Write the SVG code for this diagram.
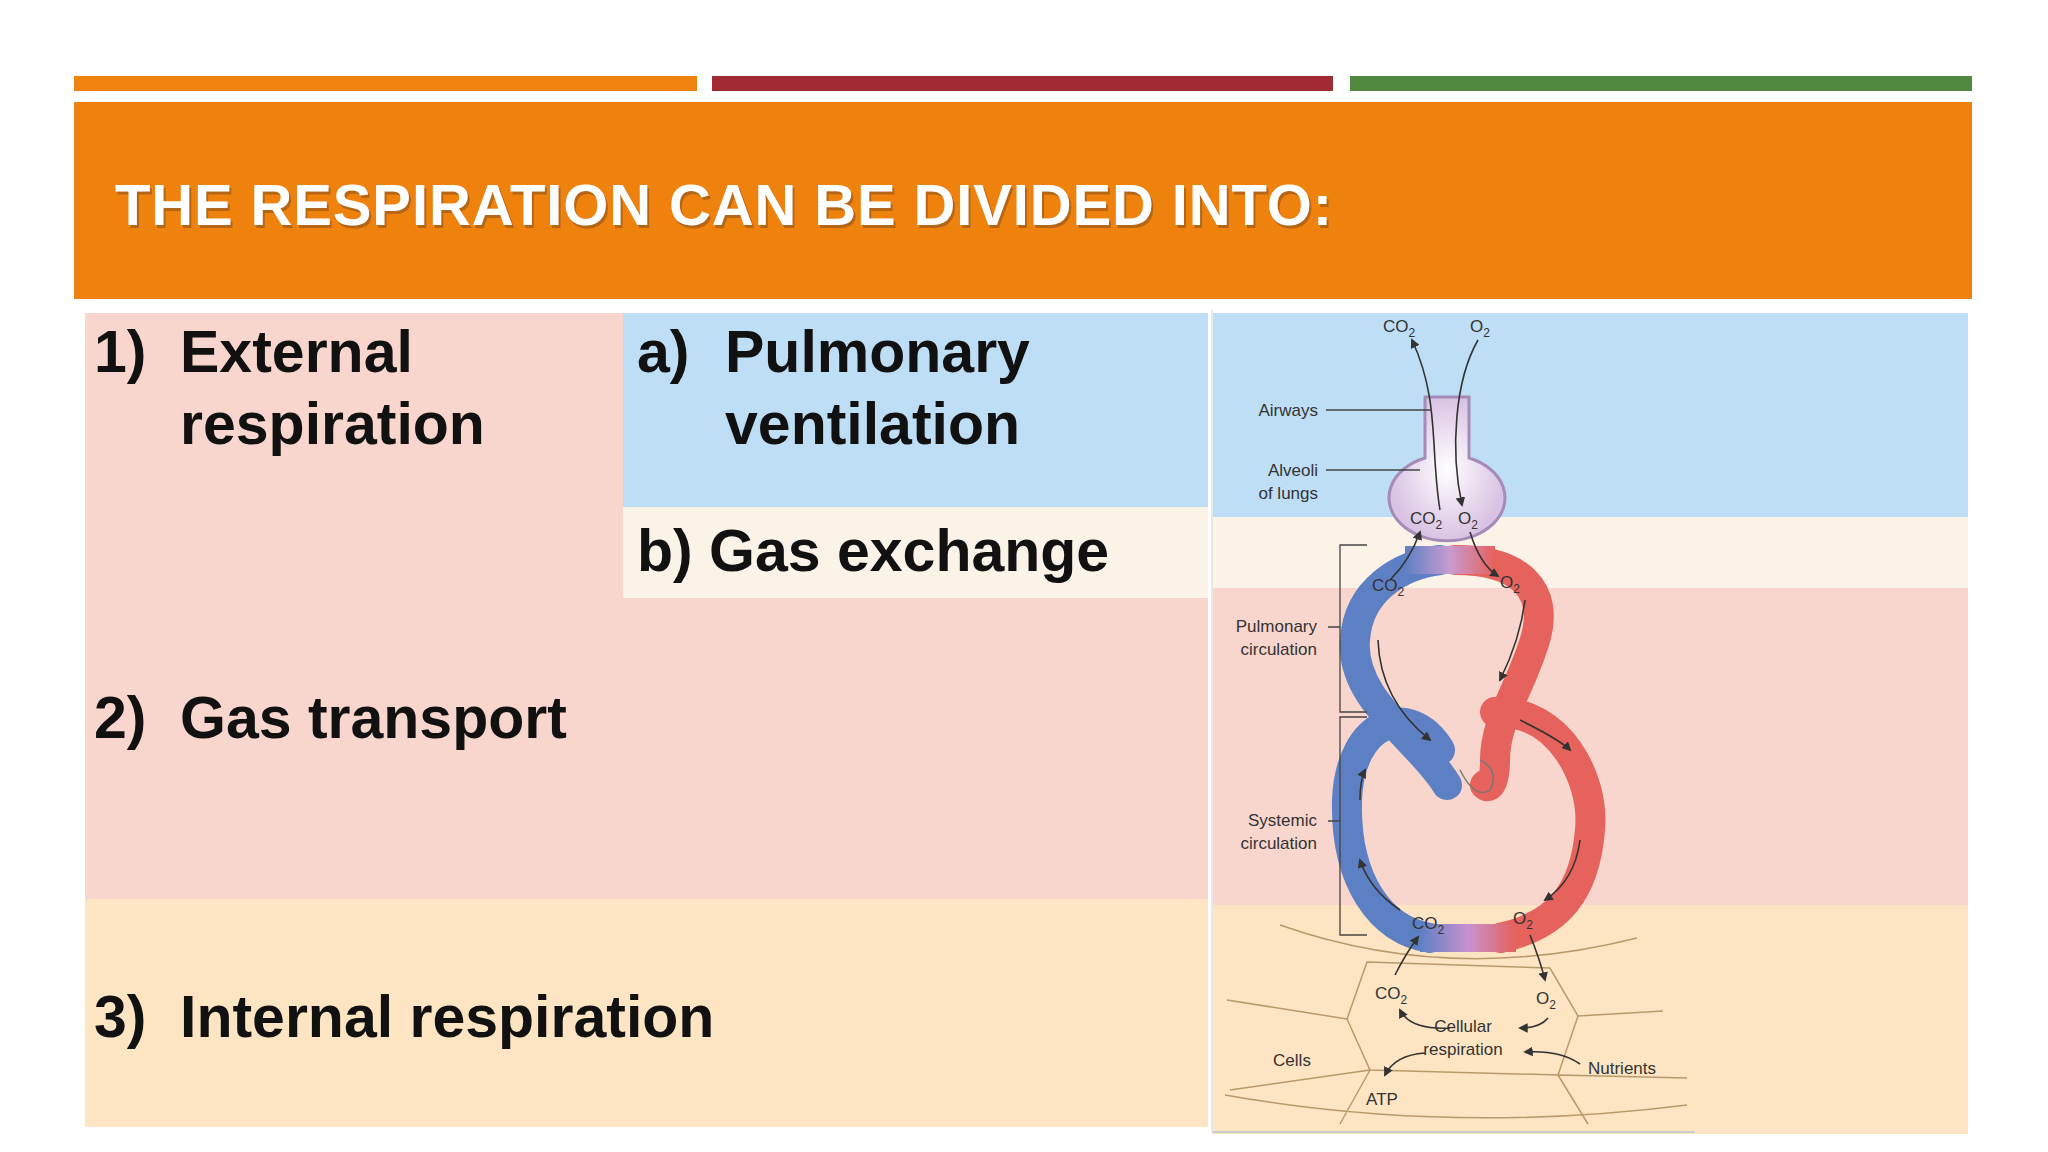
<svg xmlns="http://www.w3.org/2000/svg" width="2048" height="1152" viewBox="0 0 2048 1152">
<defs>
<style>
.big{font-family:"Liberation Sans",Arial,sans-serif;font-weight:bold;font-size:59px;fill:#111}
.sm{font-family:"Liberation Sans",Arial,sans-serif;font-size:17px;fill:#333}
.ln{stroke:#444;stroke-width:1.3;fill:none}
.cell{stroke:#b89a6a;stroke-width:1.5;fill:none}
.ar{stroke:#333;stroke-width:1.6;fill:none;marker-end:url(#ah)}
.blue{stroke:#5d80c4;stroke-width:30;fill:none;stroke-linecap:round}
.red{stroke:#e6625c;stroke-width:30;fill:none;stroke-linecap:round}
</style>
<marker id="ah" viewBox="0 0 10 10" refX="8" refY="5" markerWidth="6" markerHeight="6" orient="auto"><path d="M0,0L10,5L0,10z" fill="#333"/></marker>
<linearGradient id="bot" x1="0" x2="1"><stop offset="0" stop-color="#5d80c4"/><stop offset="0.5" stop-color="#c792cf"/><stop offset="1" stop-color="#e6625c"/></linearGradient>
<linearGradient id="top" x1="0" x2="1"><stop offset="0" stop-color="#5d80c4"/><stop offset="0.5" stop-color="#c89bd0"/><stop offset="1" stop-color="#e6625c"/></linearGradient>
<radialGradient id="bulb"><stop offset="0" stop-color="#fff"/><stop offset="1" stop-color="#d9c2e3"/></radialGradient>
</defs>
<rect width="2048" height="1152" fill="#fff"/>
<g id="bars">
<rect x="74" y="76" width="623" height="15" fill="#ef830e"/>
<rect x="712" y="76" width="621" height="15" fill="#a12a35"/>
<rect x="1350" y="76" width="622" height="15" fill="#4f8a3e"/>
</g>
<g id="header">
<rect x="74" y="102" width="1898" height="197" fill="#ef810d"/>
<text x="117" y="228" font-family="Liberation Sans,Arial,sans-serif" font-weight="bold" font-size="58" fill="#7a4a20" opacity="0.5" textLength="1217">THE RESPIRATION CAN BE DIVIDED INTO:</text>
<text x="115" y="225" font-family="Liberation Sans,Arial,sans-serif" font-weight="bold" font-size="58" fill="#fff" textLength="1217">THE RESPIRATION CAN BE DIVIDED INTO:</text>
</g>
<g id="panels">
<rect x="85" y="313" width="1123" height="586" fill="#f9d6cd"/>
<rect x="85" y="899" width="1123" height="228" fill="#fde5c3"/>
<rect x="623" y="313" width="585" height="194" fill="#bedef5"/>
<rect x="623" y="507" width="585" height="91" fill="#fcf3e8"/>
<rect x="1212" y="313" width="756" height="204" fill="#bedef5"/>
<rect x="1212" y="517" width="756" height="71" fill="#fcf3e8"/>
<rect x="1212" y="588" width="756" height="317" fill="#f9d6cd"/>
<rect x="1212" y="905" width="756" height="229" fill="#fde5c3"/>
<line x1="1212" y1="1132" x2="1695" y2="1132" stroke="#ccc" stroke-width="2"/>
<line x1="1212" y1="310" x2="1212" y2="1132" stroke="#e8e8e8" stroke-width="2"/>
</g>
<g id="texts">
<text class="big" x="94" y="372">1)</text><text class="big" x="180" y="372">External</text>
<text class="big" x="180" y="444">respiration</text>
<text class="big" x="637" y="372">a)</text><text class="big" x="725" y="372">Pulmonary</text>
<text class="big" x="725" y="444">ventilation</text>
<text class="big" x="637" y="571">b) Gas exchange</text>
<text class="big" x="94" y="738">2)</text><text class="big" x="180" y="738">Gas transport</text>
<text class="big" x="94" y="1037">3)</text><text class="big" x="180" y="1037">Internal respiration</text>
</g>
<g id="diagram">
<path class="cell" d="M1280,925 Q1450,985 1637,938"/>
<path class="cell" d="M1367,962 L1550,968 L1578,1016 L1558,1075 L1370,1070 L1347,1019 Z"/>
<path class="cell" d="M1347,1019 L1227,1000 M1578,1016 L1663,1011 M1370,1070 L1340,1124 M1558,1075 L1588,1124 M1558,1075 L1687,1078 M1370,1070 L1230,1090 M1225,1095 Q1450,1135 1687,1105"/>
<path class="blue" d="M1447,785 C1420,740 1350,700 1355,640 C1358,590 1400,565 1440,560"/>
<path class="red" d="M1455,560 C1520,560 1550,590 1535,640 C1520,690 1495,720 1495,760 C1495,780 1490,790 1485,785"/>
<path class="red" d="M1495,712 C1560,710 1595,780 1590,830 C1585,890 1560,925 1500,938"/>
<path class="blue" d="M1440,750 C1410,700 1350,720 1347,800 C1345,880 1380,930 1430,938"/>
<rect x="1420" y="924" width="96" height="28" fill="url(#bot)"/>
<rect x="1405" y="546" width="90" height="28" fill="url(#top)"/>
<path d="M1460,770 Q1475,800 1490,790 Q1500,770 1480,760" fill="none" stroke="#777" stroke-width="1.5"/>
<path d="M1425,397 L1425,458 A58,43 0 1 0 1469,458 L1469,397 Z" fill="url(#bulb)" stroke="#a58cb8" stroke-width="3"/>
<text class="sm" x="1383" y="332">CO<tspan font-size="12" dy="5">2</tspan></text>
<text class="sm" x="1470" y="332">O<tspan font-size="12" dy="5">2</tspan></text>
<text class="sm" x="1410" y="524">CO<tspan font-size="12" dy="5">2</tspan></text>
<text class="sm" x="1458" y="524">O<tspan font-size="12" dy="5">2</tspan></text>
<text class="sm" x="1372" y="591">CO<tspan font-size="12" dy="5">2</tspan></text>
<text class="sm" x="1500" y="588">O<tspan font-size="12" dy="5">2</tspan></text>
<text class="sm" x="1412" y="929">CO<tspan font-size="12" dy="5">2</tspan></text>
<text class="sm" x="1513" y="924">O<tspan font-size="12" dy="5">2</tspan></text>
<text class="sm" x="1375" y="999">CO<tspan font-size="12" dy="5">2</tspan></text>
<text class="sm" x="1536" y="1004">O<tspan font-size="12" dy="5">2</tspan></text>
<path class="ar" d="M1440,510 C1430,450 1440,400 1412,340"/>
<path class="ar" d="M1478,340 C1455,380 1450,450 1462,505"/>
<path class="ar" d="M1390,580 Q1410,560 1420,532"/>
<path class="ar" d="M1470,532 Q1480,565 1498,576"/>
<path class="ar" d="M1395,975 Q1405,955 1418,937"/>
<path class="ar" d="M1530,935 Q1540,960 1545,980"/>
<path class="ar" d="M1378,640 Q1380,700 1430,740" stroke="#223"/>
<path class="ar" d="M1525,600 Q1520,640 1500,680"/>
<path class="ar" d="M1520,720 Q1560,740 1570,750"/>
<path class="ar" d="M1580,840 Q1575,880 1545,900"/>
<path class="ar" d="M1400,910 Q1370,890 1360,860"/>
<path class="ar" d="M1360,800 Q1360,780 1365,770"/>
<path class="ar" d="M1450,1028 Q1410,1030 1400,1010"/>
<path class="ar" d="M1548,1018 Q1540,1028 1520,1028"/>
<path class="ar" d="M1580,1064 Q1560,1050 1525,1052"/>
<path class="ar" d="M1425,1053 Q1395,1055 1385,1075"/>
<text class="sm" x="1318" y="416" text-anchor="end">Airways</text>
<line class="ln" x1="1326" y1="410" x2="1432" y2="410"/>
<text class="sm" x="1318" y="476" text-anchor="end">Alveoli</text>
<text class="sm" x="1318" y="499" text-anchor="end">of lungs</text>
<line class="ln" x1="1326" y1="470" x2="1420" y2="470"/>
<path class="ln" d="M1367,545 L1340,545 L1340,712 L1367,712 M1367,717 L1340,717 L1340,935 L1367,935 M1328,627 L1340,627 M1328,821 L1340,821"/>
<text class="sm" x="1317" y="632" text-anchor="end">Pulmonary</text>
<text class="sm" x="1317" y="655" text-anchor="end">circulation</text>
<text class="sm" x="1317" y="826" text-anchor="end">Systemic</text>
<text class="sm" x="1317" y="849" text-anchor="end">circulation</text>
<text class="sm" x="1463" y="1032" text-anchor="middle">Cellular</text>
<text class="sm" x="1463" y="1055" text-anchor="middle">respiration</text>
<text class="sm" x="1292" y="1066" text-anchor="middle">Cells</text>
<text class="sm" x="1622" y="1074" text-anchor="middle">Nutrients</text>
<text class="sm" x="1382" y="1105" text-anchor="middle">ATP</text>
</g>
</svg>
